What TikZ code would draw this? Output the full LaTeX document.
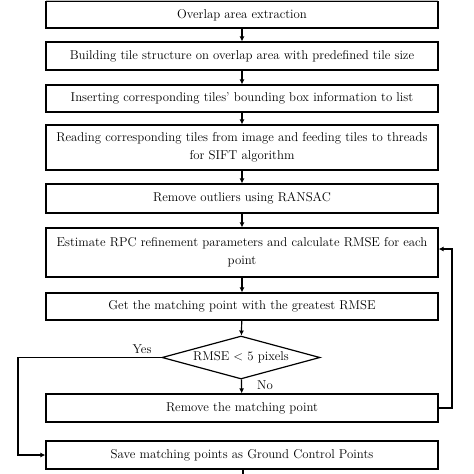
\documentclass[tikz,border=0pt]{standalone}
\usetikzlibrary{shapes.geometric,arrows.meta}
\begin{document}
\begin{tikzpicture}[x=1pt,y=-1pt,
  box/.style={draw, line width=1.2pt, rectangle, minimum width=392pt, inner sep=0pt,
    align=center, font=\fontsize{12.8}{18}\selectfont},
  dec/.style={draw, line width=1.2pt, shape=diamond, minimum width=158pt, minimum height=43pt,
    aspect=3.67, inner sep=0pt, font=\fontsize{12.8}{14}\selectfont},
  lbl/.style={font=\fontsize{12.8}{14}\selectfont, inner sep=0pt},
  arr/.style={line width=1.2pt, -{Latex[length=5pt,width=5pt]}},
  ln/.style={line width=1.2pt}]
\useasboundingbox (0,0) rectangle (474,474);
\fill[black!25] (46,0) rectangle (438,1.8);
\node[box, minimum height=26.5pt] (b1) at (242,14.8) {Overlap area extraction};
\node[box, minimum height=28pt] (b2) at (242,56) {Building tile structure on overlap area with predefined tile size};
\node[box, minimum height=27pt] (b3) at (242,98.5) {Inserting corresponding tiles’ bounding box information to list};
\node[box, minimum height=45pt] (b4) at (242,147.5) {Reading corresponding tiles from image and feeding tiles to threads\\ for SIFT algorithm};
\node[box, minimum height=29pt] (b5) at (242,198.5) {Remove outliers using RANSAC};
\node[box, minimum height=49pt] (b6) at (242,252.5) {Estimate RPC refinement parameters and calculate RMSE for each\\ point};
\node[box, minimum height=27pt] (b7) at (242,306.5) {Get the matching point with the greatest RMSE};
\node[dec] (d) at (241,357.5) {RMSE \textless{} 5 pixels};
\node[box, minimum height=28pt] (b8) at (242,408) {Remove the matching point};
\node[box, minimum height=28pt] (b9) at (242,455) {Save matching points as Ground Control Points};
\coordinate (yesc) at (18,357.5);
\coordinate (loopc) at (452,408);
\coordinate (endc) at (243,474);
\draw[arr] (b1) -- (b2);
\draw[arr] (b2) -- (b3);
\draw[arr] (b3) -- (b4);
\draw[arr] (b4) -- (b5);
\draw[arr] (b5) -- (b6);
\draw[arr] (b6) -- (b7);
\draw[arr] (b7) -- (d);
\draw[arr] (d) -- (b8);
\draw[arr] (d.west) -- (yesc) |- (b9.west);
\draw[arr] (b8.east) -- (loopc) |- ([yshift=3.5pt]b6.east);
\draw[ln] (b9.south -| endc) -- (endc);
\node[lbl] (yes) at (142,349) {Yes};
\node[lbl] (no) at (265,385) {No};
\end{tikzpicture}
\end{document}
